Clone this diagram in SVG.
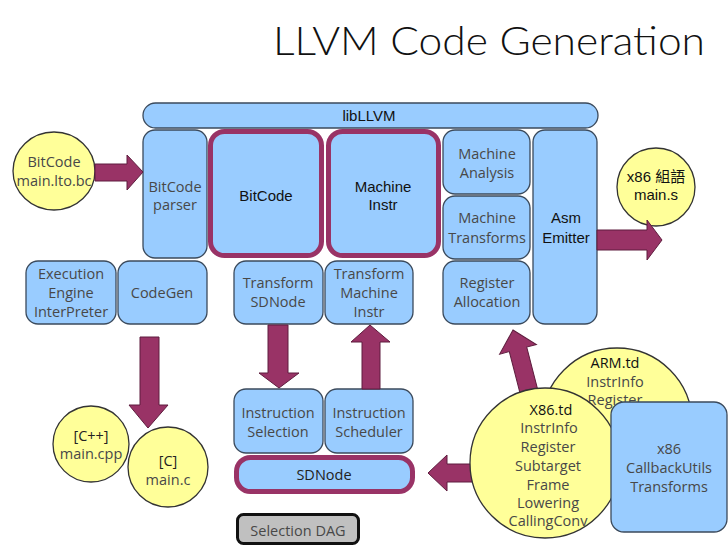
<svg xmlns="http://www.w3.org/2000/svg" width="728" height="546" viewBox="0 0 728 546">
<style>
.box{fill:#99ccff;stroke:#3b4a5c;stroke-width:1.3}
.hl{fill:#99ccff;stroke:#993366;stroke-width:5}
.circ{fill:#ffff99;stroke:#333;stroke-width:1.3}
.arr{fill:#993366;stroke:#5e1d3e;stroke-width:1}
.g{font-family:"Open Sans","DejaVu Sans",sans-serif;font-size:14.5px;fill:#484848;text-anchor:middle}
.a{font-family:"Liberation Sans",Arial,sans-serif;font-size:15px;fill:#111;text-anchor:middle}
.title{font-family:Lato,"Open Sans",sans-serif;font-weight:300;font-size:40px;fill:#111}
</style>
<rect width="728" height="546" fill="#fff"/>
<text class="title" x="273" y="55" textLength="432" lengthAdjust="spacingAndGlyphs">LLVM Code Generation</text>

<g id="libllvm"><rect class="box" x="143" y="103" width="455" height="25" rx="12.5"/><text class="a" x="369" y="121">libLLVM</text></g>
<g id="bitcode-parser"><rect class="box" x="143" y="130" width="64" height="128" rx="12"/><text class="g" x="175" y="192">BitCode</text><text class="g" x="175" y="210">parser</text></g>
<g id="bitcode"><rect class="hl" x="210.5" y="131.5" width="111" height="124" rx="14"/><text class="a" x="266" y="201">BitCode</text></g>
<g id="machine-instr"><rect class="hl" x="328.5" y="131.5" width="110" height="124" rx="14"/><text class="a" x="383" y="192">Machine</text><text class="a" x="383" y="210">Instr</text></g>
<g id="machine-analysis"><rect class="box" x="443" y="130" width="87" height="64" rx="12"/><text class="g" x="487" y="159">Machine</text><text class="g" x="487" y="178">Analysis</text></g>
<g id="machine-transforms"><rect class="box" x="443" y="196" width="87" height="63" rx="12"/><text class="g" x="487" y="223">Machine</text><text class="g" x="487" y="243">Transforms</text></g>
<g id="register-allocation"><rect class="box" x="443" y="261" width="87" height="63" rx="12"/><text class="g" x="487" y="288">Register</text><text class="g" x="487" y="307">Allocation</text></g>
<g id="asm-emitter"><rect class="box" x="533" y="130" width="64" height="194" rx="12"/><text class="a" x="566" y="223">Asm</text><text class="a" x="566" y="243">Emitter</text></g>
<g id="execution-engine"><rect class="box" x="26" y="261" width="90" height="63" rx="12"/><text class="g" x="71" y="279">Execution</text><text class="g" x="71" y="298">Engine</text><text class="g" x="71" y="317">InterPreter</text></g>
<g id="codegen"><rect class="box" x="118" y="261" width="89" height="63" rx="12"/><text class="g" x="162" y="298">CodeGen</text></g>
<g id="transform-sdnode"><rect class="box" x="234" y="261" width="89" height="63" rx="12"/><text class="g" x="278" y="288">Transform</text><text class="g" x="278" y="307">SDNode</text></g>
<g id="transform-machine-instr"><rect class="box" x="325" y="261" width="88" height="63" rx="12"/><text class="g" x="369" y="279">Transform</text><text class="g" x="369" y="298">Machine</text><text class="g" x="369" y="317">Instr</text></g>
<g id="instruction-selection"><rect class="box" x="234" y="389" width="89" height="64" rx="12"/><text class="g" x="278" y="418">Instruction</text><text class="g" x="278" y="437">Selection</text></g>
<g id="instruction-scheduler"><rect class="box" x="325" y="389" width="88" height="64" rx="12"/><text class="g" x="369" y="418">Instruction</text><text class="g" x="369" y="437">Scheduler</text></g>
<g id="sdnode"><rect class="hl" x="236.5" y="457.5" width="176" height="34" rx="14"/><text class="g" x="324" y="480" style="fill:#222">SDNode</text></g>
<g id="selection-dag"><rect x="237.5" y="514.5" width="121" height="29" rx="6" fill="#c0c0c0" stroke="#111" stroke-width="3"/><text class="g" x="298" y="536">Selection DAG</text></g>

<g id="bitcode-file"><ellipse class="circ" cx="54" cy="171" rx="41" ry="39"/><text class="g" x="54" y="167">BitCode</text><text class="g" x="54" y="186">main.lto.bc</text></g>
<g id="x86-asm"><circle class="circ" cx="656" cy="187" r="39"/><text class="a" x="656" y="182">x86 <tspan style='font-family:"Noto Sans CJK TC","Noto Sans CJK SC",sans-serif'>組語</tspan></text><text class="a" x="656" y="200">main.s</text></g>
<g id="cpp-file"><circle class="circ" cx="91" cy="444" r="38"/><text class="g" x="91" y="441" style="fill:#222">[C++]</text><text class="g" x="91" y="459">main.cpp</text></g>
<g id="c-file"><circle class="circ" cx="168" cy="467" r="40"/><text class="g" x="168" y="466" style="fill:#222">[C]</text><text class="g" x="168" y="485">main.c</text></g>

<g id="arm-td"><circle class="circ" cx="617" cy="423" r="75"/><text class="g" x="615" y="368" style="fill:#111">ARM.td</text><text class="g" x="615" y="387">InstrInfo</text><text class="g" x="615" y="405">Register</text></g>

<g id="connectors">
<polygon class="arr" points="95,164 127,164 127,155 143,172 127,190 127,181 95,181"/>
<polygon class="arr" points="597,230 647,230 647,220 662,240 647,260 647,250 597,250"/>
<polygon class="arr" points="140,337 159,337 159,405 168,405 148,428 129,405 140,405"/>
<polygon class="arr" points="268,325 288,325 288,373 299,373 279,388 259,373 268,373"/>
<polygon class="arr" points="362,389 380,389 380,342 390,342 370,325 351,342 362,342"/>
<polygon class="arr" transform="translate(513,330) rotate(-14.5)" points="0,0 19,20 9,20 9,68 -9,68 -9,20 -19,20"/>
<polygon class="arr" points="480,464 447,464 447,455 428,473 447,491 447,482 480,482"/>
</g>

<g id="x86-td"><circle class="circ" cx="545" cy="463" r="75"/><text class="g" x="551" y="415" style="fill:#111">X86.td</text><text class="g" x="549" y="433">InstrInfo</text><text class="g" x="548" y="452">Register</text><text class="g" x="548" y="471">Subtarget</text><text class="g" x="548" y="490">Frame</text><text class="g" x="548" y="508">Lowering</text><text class="g" x="548" y="526">CallingConv</text></g>
<g id="x86-utils"><rect class="box" x="611" y="402" width="116" height="130" rx="13"/><text class="g" x="669" y="454">x86</text><text class="g" x="669" y="473">CallbackUtils</text><text class="g" x="669" y="492">Transforms</text></g>
</svg>
